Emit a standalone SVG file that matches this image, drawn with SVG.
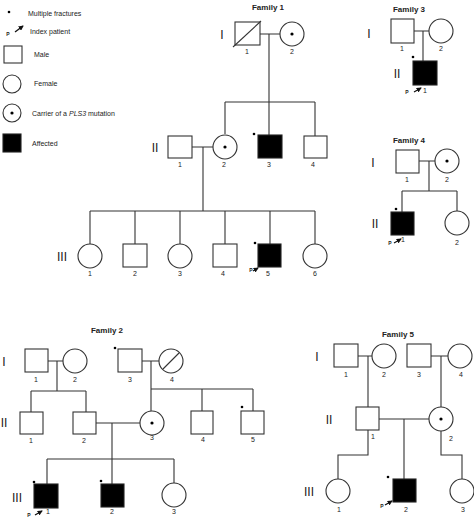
<svg xmlns="http://www.w3.org/2000/svg" width="474" height="518" viewBox="0 0 474 518">
<defs>
<style>
.sh{fill:#fff;stroke:#333;stroke-width:1.1}
.af{fill:#000;stroke:#222;stroke-width:1.1}
.ln{fill:none;stroke:#333;stroke-width:1.1}
.dot{fill:#000}
.n{font-family:"Liberation Sans",Arial,sans-serif;font-size:7px;fill:#222;text-anchor:middle}
.g{font-family:"Liberation Sans",Arial,sans-serif;font-size:12px;fill:#222;text-anchor:middle}
.t{font-family:"Liberation Sans",Arial,sans-serif;font-size:8px;font-weight:bold;fill:#222;text-anchor:middle}
.lg{font-family:"Liberation Sans",Arial,sans-serif;font-size:7px;fill:#222}
.p{font-family:"Liberation Sans",Arial,sans-serif;font-size:5px;font-weight:bold;fill:#222;text-anchor:middle}
.ar{fill:none;stroke:#111;stroke-width:1.3}
</style>
<marker id="ah" viewBox="0 0 6 6" refX="5" refY="3" markerWidth="4" markerHeight="4" orient="auto">
<path d="M0,0 L6,3 L0,6 Z" fill="#111"/>
</marker>
</defs>

<!-- Legend -->
<g id="legend">
<circle cx="9" cy="12" r="1.3" class="dot"/>
<text x="28" y="16" class="lg">Multiple fractures</text>
<text x="8" y="36" class="p">P</text>
<line x1="15" y1="32" x2="23" y2="26" class="ar" marker-end="url(#ah)"/>
<text x="30" y="34" class="lg">Index patient</text>
<rect x="4" y="46" width="18" height="17" class="sh"/>
<text x="34" y="57" class="lg">Male</text>
<circle cx="12" cy="84" r="9" class="sh"/>
<text x="34" y="86" class="lg">Female</text>
<circle cx="12" cy="113" r="9" class="sh"/>
<circle cx="12" cy="113" r="1.6" class="dot"/>
<text x="32" y="116" class="lg">Carrier of a <tspan font-style="italic">PLS3</tspan> mutation</text>
<rect x="3" y="134" width="18" height="18" class="af"/>
<text x="32" y="146" class="lg">Affected</text>
</g>

<!-- Connectors -->
<g id="connectors">
<!-- Family 1 -->
<path d="M260,34 H280 M269,34 V102 M225,102 H315 M225,102 V134 M269,102 V135 M315,102 V136" class="ln"/>
<path d="M192,147 H213 M203,147 V211 M90,211 H315 M90,211 V244 M135,211 V244 M180,211 V244 M225,211 V244 M270,211 V244 M315,211 V244" class="ln"/>
<!-- Family 3 -->
<path d="M414,31 H429 M423,31 V61" class="ln"/>
<!-- Family 4 -->
<path d="M419,161 H435 M429,161 V191 M402,191 H457 M402,191 V212 M457,191 V211" class="ln"/>
<!-- Family 2 -->
<path d="M48,361 H63 M57,361 V391 M31,391 H86 M31,391 V412 M86,391 V412" class="ln"/>
<path d="M142,361 H159 M151,361 V411 M151,389 H253 M202,389 V411 M253,389 V411" class="ln"/>
<path d="M96,423 H140 M112,423 V459 M47,459 H174 M47,459 V484 M112,459 V484 M174,459 V483" class="ln"/>
<!-- Family 5 -->
<path d="M358,356 H372 M368,356 V407 M431,356 H448 M441,356 V407" class="ln"/>
<path d="M379,419 H429 M404,419 V479" class="ln"/>
<path d="M368,430 V455 H338 V479 M441,431 V455 H462 V479" class="ln"/>
</g>

<!-- Family 1 -->
<g id="family1">
<text x="268" y="10" class="t">Family 1</text>
<text x="222" y="39" class="g">I</text>
<text x="155" y="152" class="g">II</text>
<text x="62" y="261" class="g">III</text>
</g>
<g id="f1-I-1"><rect x="235" y="22" width="25" height="23" class="sh"/><line x1="233" y1="47" x2="261" y2="21" class="ln"/><text x="247" y="54" class="n">1</text></g>
<g id="f1-I-2"><circle cx="292" cy="34" r="12" class="sh"/><circle cx="292" cy="34" r="1.6" class="dot"/><text x="292" y="54" class="n">2</text></g>
<g id="f1-II-1"><rect x="168" y="136" width="24" height="22" class="sh"/><text x="180" y="167" class="n">1</text></g>
<g id="f1-II-2"><circle cx="225" cy="147" r="12" class="sh"/><circle cx="225" cy="147" r="1.6" class="dot"/><text x="224" y="167" class="n">2</text></g>
<g id="f1-II-3"><rect x="258" y="135" width="24" height="23" class="af"/><circle cx="254" cy="134" r="1.3" class="dot"/><text x="269" y="167" class="n">3</text></g>
<g id="f1-II-4"><rect x="304" y="136" width="23" height="22" class="sh"/><text x="313" y="167" class="n">4</text></g>
<g id="f1-III-1"><circle cx="90" cy="256" r="12" class="sh"/><text x="90" y="276" class="n">1</text></g>
<g id="f1-III-2"><rect x="123" y="244" width="24" height="23" class="sh"/><text x="135" y="276" class="n">2</text></g>
<g id="f1-III-3"><circle cx="180" cy="256" r="12" class="sh"/><text x="180" y="276" class="n">3</text></g>
<g id="f1-III-4"><rect x="213" y="244" width="24" height="23" class="sh"/><text x="223" y="276" class="n">4</text></g>
<g id="f1-III-5"><rect x="258" y="244" width="23" height="23" class="af"/><circle cx="255" cy="243" r="1.3" class="dot"/><text x="251" y="272" class="p">P</text><line x1="253" y1="271" x2="258" y2="268" class="ar" marker-end="url(#ah)"/><text x="268" y="276" class="n">5</text></g>
<g id="f1-III-6"><circle cx="315" cy="256" r="12" class="sh"/><text x="315" y="276" class="n">6</text></g>

<!-- Family 3 -->
<g id="family3">
<text x="409" y="12" class="t">Family 3</text>
<text x="369" y="38" class="g">I</text>
<text x="397" y="78" class="g">II</text>
</g>
<g id="f3-I-1"><rect x="391" y="19" width="23" height="24" class="sh"/><text x="402" y="51" class="n">1</text></g>
<g id="f3-I-2"><circle cx="441" cy="31" r="12" class="sh"/><text x="441" y="51" class="n">2</text></g>
<g id="f3-II-1"><rect x="413" y="61" width="24" height="24" class="af"/><circle cx="413" cy="57" r="1.3" class="dot"/><text x="407" y="94" class="p">P</text><line x1="414" y1="92" x2="421" y2="88" class="ar" marker-end="url(#ah)"/><text x="425" y="93" class="n">1</text></g>

<!-- Family 4 -->
<g id="family4">
<text x="409" y="143" class="t">Family 4</text>
<text x="373" y="167" class="g">I</text>
<text x="375" y="228" class="g">II</text>
</g>
<g id="f4-I-1"><rect x="396" y="150" width="23" height="23" class="sh"/><text x="407" y="182" class="n">1</text></g>
<g id="f4-I-2"><circle cx="447" cy="161" r="12" class="sh"/><circle cx="447" cy="161" r="1.6" class="dot"/><text x="447" y="182" class="n">2</text></g>
<g id="f4-II-1"><rect x="391" y="212" width="23" height="23" class="af"/><circle cx="396" cy="209" r="1.3" class="dot"/><text x="390" y="245" class="p">P</text><line x1="394" y1="243" x2="401" y2="239" class="ar" marker-end="url(#ah)"/><text x="403" y="242" class="n">1</text></g>
<g id="f4-II-2"><circle cx="457" cy="223" r="12" class="sh"/><text x="457" y="245" class="n">2</text></g>

<!-- Family 2 -->
<g id="family2">
<text x="107" y="333" class="t">Family 2</text>
<text x="4" y="366" class="g">I</text>
<text x="4" y="427" class="g">II</text>
<text x="17" y="502" class="g">III</text>
</g>
<g id="f2-I-1"><rect x="25" y="349" width="23" height="23" class="sh"/><text x="36" y="382" class="n">1</text></g>
<g id="f2-I-2"><circle cx="75" cy="361" r="12" class="sh"/><text x="75" y="382" class="n">2</text></g>
<g id="f2-I-3"><rect x="118" y="349" width="24" height="23" class="sh"/><circle cx="115" cy="348" r="1.3" class="dot"/><text x="130" y="382" class="n">3</text></g>
<g id="f2-I-4"><circle cx="171" cy="361" r="12" class="sh"/><line x1="163" y1="369" x2="179" y2="353" class="ln"/><text x="172" y="382" class="n">4</text></g>
<g id="f2-II-1"><rect x="20" y="412" width="23" height="22" class="sh"/><text x="31" y="443" class="n">1</text></g>
<g id="f2-II-2"><rect x="73" y="412" width="23" height="22" class="sh"/><text x="84" y="443" class="n">2</text></g>
<g id="f2-II-3"><circle cx="152" cy="423" r="12" class="sh"/><circle cx="152" cy="423" r="1.6" class="dot"/><text x="152" y="440" class="n">3</text></g>
<g id="f2-II-4"><rect x="191" y="411" width="22" height="23" class="sh"/><text x="203" y="442" class="n">4</text></g>
<g id="f2-II-5"><rect x="241" y="411" width="23" height="23" class="sh"/><circle cx="242" cy="407" r="1.3" class="dot"/><text x="253" y="442" class="n">5</text></g>
<g id="f2-III-1"><rect x="34" y="484" width="24" height="24" class="af"/><circle cx="34" cy="482" r="1.3" class="dot"/><text x="29" y="517" class="p">P</text><line x1="35" y1="515" x2="42" y2="511" class="ar" marker-end="url(#ah)"/><text x="48" y="514" class="n">1</text></g>
<g id="f2-III-2"><rect x="101" y="484" width="23" height="23" class="af"/><circle cx="101" cy="481" r="1.3" class="dot"/><text x="112" y="514" class="n">2</text></g>
<g id="f2-III-3"><circle cx="174" cy="495" r="12" class="sh"/><text x="174" y="514" class="n">3</text></g>

<!-- Family 5 -->
<g id="family5">
<text x="398" y="337" class="t">Family 5</text>
<text x="317" y="361" class="g">I</text>
<text x="329" y="424" class="g">II</text>
<text x="309" y="496" class="g">III</text>
</g>
<g id="f5-I-1"><rect x="334" y="344" width="24" height="23" class="sh"/><text x="346" y="377" class="n">1</text></g>
<g id="f5-I-2"><circle cx="384" cy="356" r="12" class="sh"/><text x="384" y="377" class="n">2</text></g>
<g id="f5-I-3"><rect x="407" y="344" width="24" height="23" class="sh"/><text x="419" y="377" class="n">3</text></g>
<g id="f5-I-4"><circle cx="460" cy="356" r="12" class="sh"/><text x="461" y="377" class="n">4</text></g>
<g id="f5-II-1"><rect x="356" y="407" width="23" height="23" class="sh"/><text x="373" y="439" class="n">1</text></g>
<g id="f5-II-2"><circle cx="441" cy="419" r="12" class="sh"/><circle cx="441" cy="419" r="1.6" class="dot"/><text x="451" y="441" class="n">2</text></g>
<g id="f5-III-1"><circle cx="338" cy="491" r="12" class="sh"/><text x="339" y="512" class="n">1</text></g>
<g id="f5-III-2"><rect x="393" y="479" width="23" height="23" class="af"/><circle cx="388" cy="477" r="1.3" class="dot"/><text x="382" y="508" class="p">P</text><line x1="385" y1="505" x2="392" y2="501" class="ar" marker-end="url(#ah)"/><text x="406" y="512" class="n">2</text></g>
<g id="f5-III-3"><circle cx="462" cy="491" r="12" class="sh"/><text x="463" y="512" class="n">3</text></g>
</svg>
